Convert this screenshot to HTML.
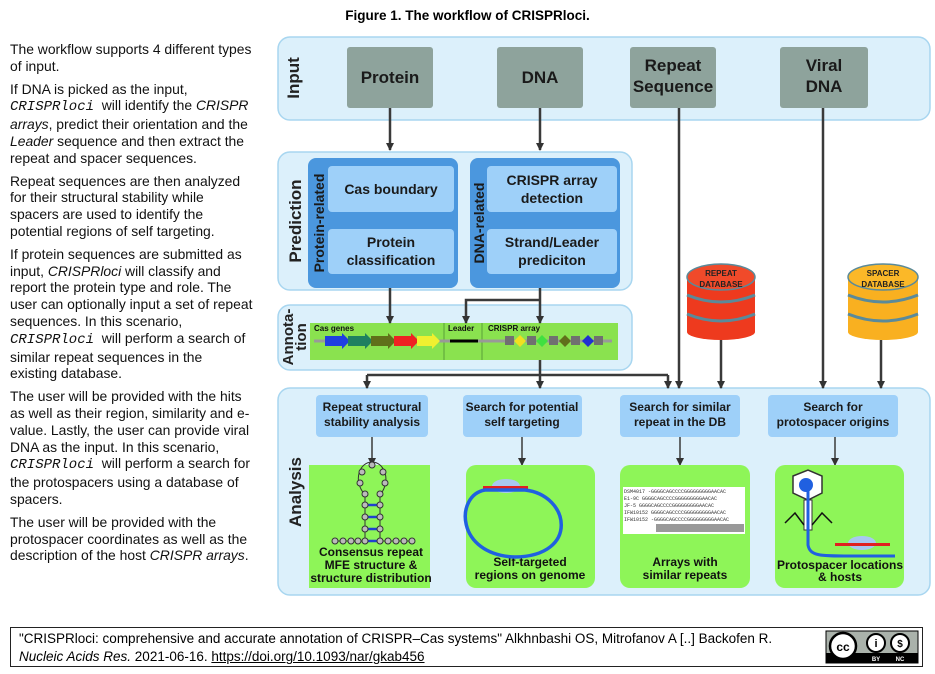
<!DOCTYPE html>
<html><head><meta charset="utf-8">
<style>
body{margin:0;width:935px;height:674px;background:#fff;font-family:"Liberation Sans",sans-serif;position:relative;overflow:hidden}
.t{position:absolute;left:10px;font-size:13.9px;line-height:16.8px;color:#111;white-space:nowrap}
.t p{margin:0 0 6px 0}
.m{font-family:"Liberation Mono",monospace;font-style:italic;font-size:14px}
#title{position:absolute;left:0;width:935px;top:8px;text-align:center;font-weight:bold;font-size:13.5px}
#foot{position:absolute;left:10px;top:627px;width:913px;height:40px;border:1px solid #222;font-size:13.5px;line-height:18px;padding:2px 8px;box-sizing:border-box}
svg{position:absolute;left:0;top:0}
</style></head><body>
<div id="title">Figure 1. The workflow of CRISPRloci.</div>
<div class="t" style="top:41px">
<p>The workflow supports 4 different types<br>of input.</p>
<p>If DNA is picked as the input,<br><span class="m">CRISPRloci</span>&nbsp; will identify the <i>CRISPR</i><br><i>arrays</i>, predict their orientation and the<br><i>Leader</i> sequence and then extract the<br>repeat and spacer sequences.</p>
<p>Repeat sequences are then analyzed<br>for their structural stability while<br>spacers are used to identify the<br>potential regions of self targeting.</p>
<p>If protein sequences are submitted as<br>input, <i>CRISPRloci</i> will classify and<br>report the protein type and role. The<br>user can optionally input a set of repeat<br>sequences. In this scenario,<br><span class="m">CRISPRloci</span>&nbsp; will perform a search of<br>similar repeat sequences in the<br>existing database.</p>
<p>The user will be provided with the hits<br>as well as their region, similarity and e-<br>value. Lastly, the user can provide viral<br>DNA as the input. In this scenario,<br><span class="m">CRISPRloci</span>&nbsp; will perform a search for<br>the protospacers using a database of<br>spacers.</p>
<p>The user will be provided with the<br>protospacer coordinates as well as the<br>description of the host <i>CRISPR arrays</i>.</p>
</div>
<svg width="935" height="674" font-family="Liberation Sans, sans-serif" font-weight="bold">
<defs><marker id="a" markerWidth="8" markerHeight="8" refX="7" refY="4" orient="auto" markerUnits="userSpaceOnUse"><path d="M0,0 L8,4 L0,8z" fill="#333"/></marker></defs>
<rect x="278" y="37" width="652" height="83" rx="12" fill="#dcf0fb" stroke="#a8d6f0" stroke-width="1.5"/>
<rect x="278" y="152" width="354" height="138" rx="12" fill="#dcf0fb" stroke="#a8d6f0" stroke-width="1.5"/>
<rect x="278" y="305" width="354" height="65" rx="12" fill="#dcf0fb" stroke="#a8d6f0" stroke-width="1.5"/>
<rect x="278" y="388" width="652" height="207" rx="12" fill="#dcf0fb" stroke="#a8d6f0" stroke-width="1.5"/>
<text transform="translate(299,78) rotate(-90)" text-anchor="middle" font-size="17" fill="#222">Input</text>
<text transform="translate(301,221) rotate(-90)" text-anchor="middle" font-size="17" fill="#222">Prediction</text>
<text transform="translate(293,337) rotate(-90)" text-anchor="middle" font-size="15" fill="#222">Annota-</text>
<text transform="translate(306,337) rotate(-90)" text-anchor="middle" font-size="15" fill="#222">tion</text>
<text transform="translate(301,492) rotate(-90)" text-anchor="middle" font-size="17" fill="#222">Analysis</text>
<g fill="#8ea39c"><rect x="347" y="47" width="86" height="61" rx="3"/><rect x="497" y="47" width="86" height="61" rx="3"/><rect x="630" y="47" width="86" height="61" rx="3"/><rect x="780" y="47" width="88" height="61" rx="3"/></g>
<g font-size="17" fill="#1a1a1a" text-anchor="middle"><text x="390" y="83">Protein</text><text x="540" y="83">DNA</text><text x="673" y="71">Repeat</text><text x="673" y="92">Sequence</text><text x="824" y="71">Viral</text><text x="824" y="92">DNA</text></g>
<rect x="308" y="158" width="150" height="130" rx="8" fill="#4b97de"/>
<rect x="470" y="158" width="150" height="130" rx="8" fill="#4b97de"/>
<g fill="#9ed0f9"><rect x="328" y="166" width="126" height="46" rx="4"/><rect x="328" y="229" width="126" height="45" rx="4"/><rect x="487" y="166" width="130" height="46" rx="4"/><rect x="487" y="229" width="130" height="45" rx="4"/></g>
<text transform="translate(324,223) rotate(-90)" text-anchor="middle" font-size="14" fill="#1a1a1a">Protein-related</text>
<text transform="translate(484,223) rotate(-90)" text-anchor="middle" font-size="14" fill="#1a1a1a">DNA-related</text>
<g font-size="14" fill="#1a1a1a" text-anchor="middle"><text x="391" y="194">Cas boundary</text><text x="391" y="247">Protein</text><text x="391" y="265">classification</text><text x="552" y="185">CRISPR array</text><text x="552" y="203">detection</text><text x="552" y="247">Strand/Leader</text><text x="552" y="265">prediciton</text></g>
<rect x="310" y="323" width="308" height="37" fill="#8ae24f"/>
<line x1="444" y1="323" x2="444" y2="360" stroke="#5aa03a"/><line x1="482" y1="323" x2="482" y2="360" stroke="#5aa03a"/>
<line x1="314" y1="341" x2="612" y2="341" stroke="#999" stroke-width="3"/>
<g font-size="8" fill="#111"><text x="314" y="331">Cas genes</text><text x="448" y="331">Leader</text><text x="488" y="331">CRISPR array</text></g>
<polygon points="325,336 342,336 342,333 350,341 342,349 342,346 325,346" fill="#1f3ee0"/>
<polygon points="348,336 365,336 365,333 373,341 365,349 365,346 348,346" fill="#1f8060"/>
<polygon points="371,336 388,336 388,333 396,341 388,349 388,346 371,346" fill="#60701a"/>
<polygon points="394,336 411,336 411,333 419,341 411,349 411,346 394,346" fill="#ee2222"/>
<polygon points="417,336 432,336 432,333 440,341 432,349 432,346 417,346" fill="#f0f030"/>
<line x1="450" y1="341" x2="478" y2="341" stroke="#000" stroke-width="3"/>
<g fill="#707070"><rect x="505" y="336" width="9" height="9"/><rect x="527" y="336" width="9" height="9"/><rect x="549" y="336" width="9" height="9"/><rect x="571" y="336" width="9" height="9"/><rect x="594" y="336" width="9" height="9"/></g>
<polygon points="520,335 526,341 520,347 514,341" fill="#f0e020"/><polygon points="542,335 548,341 542,347 536,341" fill="#40e040"/><polygon points="565,335 571,341 565,347 559,341" fill="#60701a"/><polygon points="588,335 594,341 588,347 582,341" fill="#2030d0"/>
<g>
<rect x="687" y="277" width="68" height="55" fill="#ee3a1e"/>
<ellipse cx="721" cy="332" rx="34" ry="8" fill="#ee3a1e"/>
<path d="M687,295 q34,14 68,0 M687,314 q34,14 68,0" stroke="#5a8a9a" stroke-width="3" fill="none"/>
<ellipse cx="721" cy="277" rx="34" ry="13" fill="#f04a2a" stroke="#5a8a9a" stroke-width="1.5"/>
<text x="721" y="276" font-size="8" text-anchor="middle" fill="#222">REPEAT</text><text x="721" y="287" font-size="8" text-anchor="middle" fill="#222">DATABASE</text>
</g>
<g>
<rect x="848" y="277" width="70" height="55" fill="#f9b020"/>
<ellipse cx="883" cy="332" rx="35" ry="8" fill="#f9b020"/>
<path d="M848,295 q35,14 70,0 M848,314 q35,14 70,0" stroke="#5a8a9a" stroke-width="3" fill="none"/>
<ellipse cx="883" cy="277" rx="35" ry="13" fill="#fbb828" stroke="#5a8a9a" stroke-width="1.5"/>
<text x="883" y="276" font-size="8" text-anchor="middle" fill="#222">SPACER</text><text x="883" y="287" font-size="8" text-anchor="middle" fill="#222">DATABASE</text>
</g>
<g stroke="#3a3a3a" stroke-width="2.5" fill="none">
<line x1="390" y1="108" x2="390" y2="150" marker-end="url(#a)"/>
<line x1="540" y1="108" x2="540" y2="150" marker-end="url(#a)"/>
<line x1="390" y1="288" x2="390" y2="323" marker-end="url(#a)"/>
<line x1="540" y1="288" x2="540" y2="323" marker-end="url(#a)"/>
<polyline points="540,300 466,300 466,323" marker-end="url(#a)"/>
<line x1="540" y1="360" x2="540" y2="375"/>
<line x1="367" y1="375" x2="668" y2="375"/>
<line x1="367" y1="375" x2="367" y2="388" marker-end="url(#a)"/>
<line x1="540" y1="375" x2="540" y2="388" marker-end="url(#a)"/>
<line x1="668" y1="375" x2="668" y2="388" marker-end="url(#a)"/>
<line x1="679" y1="108" x2="679" y2="388" marker-end="url(#a)"/>
<line x1="721" y1="340" x2="721" y2="388" marker-end="url(#a)"/>
<line x1="823" y1="108" x2="823" y2="388" marker-end="url(#a)"/>
<line x1="881" y1="340" x2="881" y2="388" marker-end="url(#a)"/>
</g>
<g fill="#9ed0f9"><rect x="316" y="395" width="112" height="42" rx="4"/><rect x="463" y="395" width="119" height="42" rx="4"/><rect x="620" y="395" width="120" height="42" rx="4"/><rect x="768" y="395" width="130" height="42" rx="4"/></g>
<g font-size="12" fill="#1a1a1a" text-anchor="middle"><text x="372" y="411">Repeat structural</text><text x="372" y="426">stability analysis</text><text x="522" y="411">Search for potential</text><text x="522" y="426">self targeting</text><text x="680" y="411">Search for similar</text><text x="680" y="426">repeat in the DB</text><text x="833" y="411">Search for</text><text x="833" y="426">protospacer origins</text></g>
<g stroke="#3a3a3a" stroke-width="1.5"><line x1="372" y1="437" x2="372" y2="465" marker-end="url(#a)"/><line x1="522" y1="437" x2="522" y2="465" marker-end="url(#a)"/><line x1="680" y1="437" x2="680" y2="465" marker-end="url(#a)"/><line x1="835" y1="437" x2="835" y2="465" marker-end="url(#a)"/></g>
<g fill="#8ef558"><rect x="309" y="465" width="121" height="123"/><rect x="466" y="465" width="129" height="123" rx="10"/><rect x="620" y="465" width="130" height="123" rx="10"/><rect x="775" y="465" width="129" height="123" rx="10"/></g>
<g stroke="#333" fill="#bbb" stroke-width="1">
<path d="M365,541 L365,495 M380,541 L380,495" fill="none"/>
<path d="M365,495 C352,480 360,462 372,462 C384,462 392,480 380,495" fill="none"/>
<line x1="335" y1="541" x2="412" y2="541"/>
<g stroke="#2040d0" stroke-width="2.5"><line x1="365" y1="505" x2="380" y2="505"/><line x1="365" y1="517" x2="380" y2="517"/><line x1="365" y1="529" x2="380" y2="529"/><line x1="365" y1="541" x2="380" y2="541"/></g>
<circle cx="335" cy="541" r="3"/><circle cx="343" cy="541" r="3"/><circle cx="351" cy="541" r="3"/><circle cx="358" cy="541" r="3"/><circle cx="365" cy="541" r="3"/><circle cx="380" cy="541" r="3"/><circle cx="388" cy="541" r="3"/><circle cx="396" cy="541" r="3"/><circle cx="404" cy="541" r="3"/><circle cx="412" cy="541" r="3"/>
<circle cx="365" cy="529" r="3"/><circle cx="380" cy="529" r="3"/><circle cx="365" cy="517" r="3"/><circle cx="380" cy="517" r="3"/><circle cx="365" cy="505" r="3"/><circle cx="380" cy="505" r="3"/><circle cx="365" cy="494" r="3"/><circle cx="380" cy="494" r="3"/><circle cx="360" cy="483" r="3"/><circle cx="385" cy="483" r="3"/><circle cx="362" cy="472" r="3"/><circle cx="383" cy="472" r="3"/><circle cx="372" cy="465" r="3"/>
</g>
<g font-size="12" fill="#111" text-anchor="middle"><text x="371" y="556">Consensus repeat</text><text x="371" y="569">MFE structure &amp;</text><text x="371" y="582">structure distribution</text>
<text x="530" y="566">Self-targeted</text><text x="530" y="579">regions on genome</text>
<text x="685" y="566">Arrays with</text><text x="685" y="579">similar repeats</text>
<text x="840" y="569">Protospacer locations</text><text x="840" y="581">&amp; hosts</text></g>
<ellipse cx="506" cy="486" rx="14" ry="7" fill="#a8c8f0"/>
<rect x="483" y="486" width="45" height="3" fill="#e02020"/>
<path d="M485,490 C455,495 455,555 515,557 C580,556 570,495 525,490 Z" fill="none" stroke="#2060e0" stroke-width="3.5"/>
<rect x="623" y="487" width="122" height="47" fill="#fff"/>
<g font-size="5" font-weight="normal" font-family="Liberation Mono, monospace" fill="#333"><text x="624" y="493">DSM4017 -GGGGCAGCCCCGGGGGGGGGAACAC</text><text x="624" y="500">E1-9C GGGGCAGCCCCGGGGGGGGGAACAC</text><text x="624" y="507">JF-5 GGGGCAGCCCCGGGGGGGGGAACAC</text><text x="624" y="514">IFW10152 GGGGCAGCCCCGGGGGGGGGAACAC</text><text x="624" y="521">IFW10152 -GGGGCAGCCCCGGGGGGGGGAACAC</text></g>
<rect x="656" y="524" width="88" height="8" fill="#999"/>
<polygon points="793,476 808,470 822,476 822,493 808,500 793,493" fill="#fff" stroke="#333" stroke-width="1.5"/>
<circle cx="806" cy="485" r="7" fill="#2060e0"/>
<rect x="804" y="500" width="8" height="30" fill="#fff" stroke="#333"/>
<path d="M785,523 L795,513 L804,525 M812,525 L822,513 L832,523" stroke="#111" stroke-width="1.5" fill="none"/>
<path d="M808,490 L808,545 C810,556 820,556 850,556 L895,556" stroke="#2060e0" stroke-width="3" fill="none"/>
<ellipse cx="862" cy="543" rx="14" ry="7" fill="#a8c8f0"/>
<rect x="835" y="543" width="55" height="3" fill="#e02020"/>
<rect x="826" y="631" width="92" height="32" fill="#aab2ab" stroke="#000"/>
<rect x="826" y="653" width="92" height="10" fill="#000"/>
<circle cx="843" cy="646" r="13" fill="#fff" stroke="#000" stroke-width="2.5"/>
<text x="843" y="651" font-size="12" text-anchor="middle" fill="#000">cc</text>
<circle cx="876" cy="643" r="9" fill="#fff" stroke="#000" stroke-width="2"/>
<circle cx="900" cy="643" r="9" fill="#fff" stroke="#000" stroke-width="2"/>
<text x="876" y="647" font-size="11" text-anchor="middle">i</text><text x="900" y="647" font-size="10" text-anchor="middle">$</text>
<text x="876" y="661" font-size="6" fill="#fff" text-anchor="middle">BY</text><text x="900" y="661" font-size="6" fill="#fff" text-anchor="middle">NC</text>
</svg>
<div id="foot">"CRISPRloci: comprehensive and accurate annotation of CRISPR–Cas systems" Alkhnbashi OS, Mitrofanov A [..] Backofen R.<br><i>Nucleic Acids Res.</i> 2021-06-16. <u>https://doi.org/10.1093/nar/gkab456</u></div>
</body></html>
